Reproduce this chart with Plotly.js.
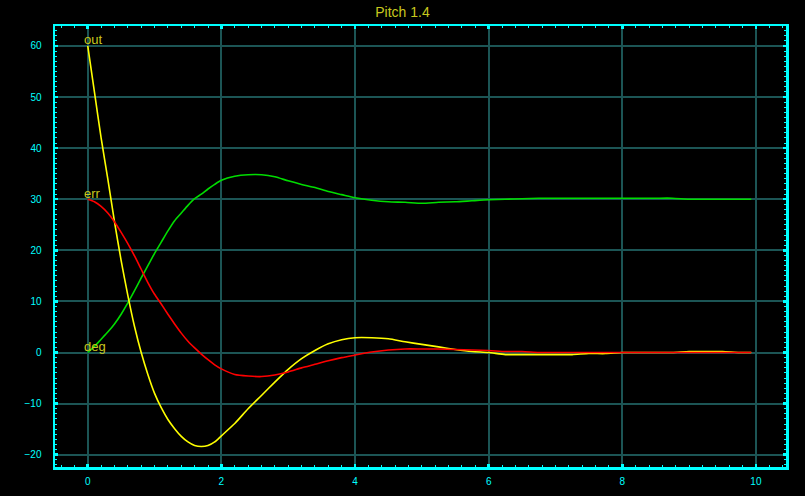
<!DOCTYPE html>
<html>
<head>
<meta charset="utf-8">
<script src="https://cdn.plot.ly/plotly-3.0.1.min.js"></script>
<style>
  html, body { margin: 0; padding: 0; background: #000; }
  #chart { width: 805px; height: 496px; }
</style>
</head>
<body>
<div id="chart"></div>
<script>
// values
var time = [0, 0.1, 0.2, 0.3, 0.4, 0.5, 0.6, 0.7, 0.8, 0.9,
            1.0, 1.1, 1.2, 1.3, 1.4, 1.5, 1.6, 1.7, 1.8, 1.9,
            2.0, 2.2, 2.4, 2.6, 2.8, 3.0, 3.2, 3.4, 3.6, 3.8,
            4.0, 4.25, 4.5, 4.75, 5.0, 5.25, 5.5, 5.75, 6.0, 6.25,
            6.5, 6.75, 7.0, 7.25, 7.5, 7.75, 8.0, 8.25, 8.5, 8.75,
            9.0, 9.25, 9.5, 9.75, 9.93];

var out = [60, 51, 42, 34, 25.6, 18, 11.2, 5.1, 0, -4.3,
           -8, -10.8, -13.1, -14.9, -16.4, -17.5, -18.2, -18.4, -18.2, -17.5,
           -16.3, -13.9, -11, -8.4, -5.8, -3.3, -1.2, 0.4, 1.7, 2.5,
           2.9, 2.9, 2.7, 2.1, 1.6, 1.1, 0.6, 0.2, 0, -0.4,
           -0.4, -0.4, -0.4, -0.4, -0.2, -0.2, 0, 0, 0, 0,
           0.2, 0.2, 0.2, 0, 0];

var err = [30, 29.5, 28.6, 27.3, 25.6, 23.5, 21.3, 18.9, 16.3, 13.7,
           11.4, 9.5, 7.5, 5.6, 3.8, 2.2, 0.9, -0.3, -1.4, -2.4,
           -3.2, -4.3, -4.6, -4.7, -4.4, -3.8, -3.0, -2.3, -1.6, -1.0,
           -0.5, 0.1, 0.5, 0.7, 0.7, 0.7, 0.6, 0.5, 0.4, 0.2,
           0.2, 0, 0, 0, 0, 0, 0, 0, 0, 0,
           0, 0, 0, 0, 0];

var deg = [0, 1.2, 2.6, 4.0, 5.6, 7.5, 9.7, 12.1, 14.6, 17.0,
           19.4, 21.6, 23.8, 25.8, 27.3, 28.8, 30.1, 31.0, 32.0, 32.9,
           33.7, 34.5, 34.8, 34.8, 34.4, 33.6, 32.9, 32.3, 31.5, 30.9,
           30.3, 29.8, 29.5, 29.4, 29.2, 29.4, 29.5, 29.7, 29.9, 30.0,
           30.1, 30.2, 30.2, 30.2, 30.2, 30.2, 30.2, 30.2, 30.2, 30.2,
           30.0, 30.0, 30.0, 30.0, 30.0];

var names = ['deg', 'out', 'err'];
var series = [deg, out, err];
var colors = ['#00dd00', '#ffff00', '#ff0000'];

var CYAN = '#00ffff';
var GRID = '#1c5555';
var LABEL = '#c8c81e';
var FONT = 'Liberation Sans, Arial, sans-serif';

var data = [];
var notes = [];
for (var i = 0; i < series.length; i++) {
  data.push({
    x: time,
    y: series[i],
    mode: 'lines',
    line: {color: colors[i], width: 1.6, shape: 'spline', smoothing: 0.6},
    name: names[i],
    type: 'scatter'
  });
  notes.push({
    x: time[0], y: series[i][0],
    text: names[i],
    showarrow: false,
    xanchor: 'left', yanchor: 'middle',
    xshift: -6, yshift: 6,
    font: {family: FONT, size: 13, color: LABEL}
  });
}

var axisStyle = {
  showgrid: true,
  gridcolor: GRID,
  gridwidth: 2,
  zeroline: false,
  showline: true,
  linecolor: CYAN,
  linewidth: 2.5,
  mirror: 'allticks',
  ticks: 'inside',
  ticklen: 3,
  tickwidth: 2.5,
  tickcolor: CYAN,
  tickfont: {family: FONT, size: 10, color: CYAN}
};

var layout = {
  width: 805,
  height: 496,
  showlegend: false,
  margin: {l: 55, r: 19, t: 26, b: 29},
  paper_bgcolor: '#000',
  plot_bgcolor: '#000',
  title: {
    text: 'Pitch 1.4',
    x: 0.5, xanchor: 'center',
    y: 0.975, yanchor: 'middle',
    font: {family: FONT, size: 14, color: LABEL}
  },
  xaxis: Object.assign({}, axisStyle, {
    range: [-0.49, 10.45],
    dtick: 2,
    tick0: 0,
    ticklabelstandoff: 3,
    minor: {dtick: 0.2, ticks: 'inside', ticklen: 2, tickwidth: 1, tickcolor: CYAN, showgrid: false}
  }),
  yaxis: Object.assign({}, axisStyle, {
    range: [-22.4, 63.9],
    dtick: 10,
    tick0: 0,
    ticklabelstandoff: 9,
    minor: {dtick: 1, ticks: 'inside', ticklen: 2, tickwidth: 1, tickcolor: CYAN, showgrid: false}
  }),
  annotations: notes,
  hovermode: false
};

Plotly.newPlot('chart', data, layout, {staticPlot: true, displayModeBar: false});
</script>
</body>
</html>
